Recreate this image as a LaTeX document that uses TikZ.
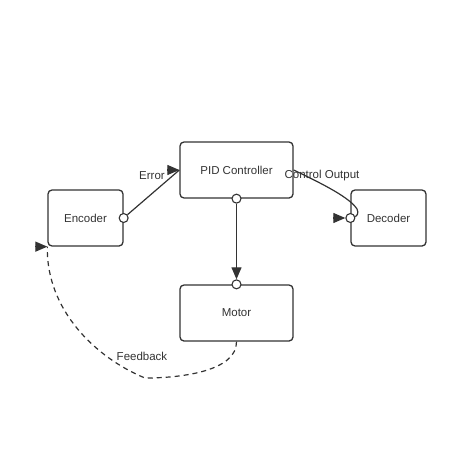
\documentclass[tikz,border=0pt]{standalone}
\usepackage{fontspec}
\setmainfont{Liberation Sans}
\usetikzlibrary{arrows.meta}
\definecolor{edgegray}{HTML}{333333}

\begin{document}
\begin{tikzpicture}[x=1pt,y=-1pt,
    box/.style={draw=edgegray,rounded corners=4pt,line width=1.3pt,text=edgegray,font=\fontsize{11.5}{14}\selectfont,minimum height=56pt},
    port/.style={circle,draw=edgegray,fill=white,line width=1.1pt,inner sep=0pt,minimum size=9pt},
    conn/.style={draw=edgegray,line width=1.2pt},
    tip/.style={-{Triangle[length=12pt,width=10pt]},draw=edgegray,fill=edgegray,line width=1.2pt},
    lbl/.style={text=edgegray,font=\fontsize{11.5}{14}\selectfont,inner sep=1pt}]
    \useasboundingbox (0,0) rectangle (474,474);
    \node[box,minimum width=75pt] (enc) at (85.5,218) {Encoder};
    \node[box,minimum width=113pt] (pid) at (236.5,170) {PID Controller};
    \node[box,minimum width=75pt] (dec) at (388.5,218) {Decoder};
    \node[box,minimum width=113pt] (motor) at (236.5,313) {Motor};
    \node[port] (eport) at (enc.east) {};
    \node[port] (pport) at (pid.south) {};
    \node[port] (mport) at (motor.north) {};
    \node[port] (dport) at (dec.west) {};
    \coordinate (fbk) at (145,378);
    \node[lbl] (errlbl) at (152,176) {Error};
    \node[lbl] (outlbl) at (322,176) {Control Output};
    \node[lbl] (fbklbl) at (142,356) {Feedback};
    \draw[conn] (eport) -- (pid.west);
    \draw[tip] ([xshift=-12pt]pid.west) -- (pid.west);
    \draw[conn] (pid.east) .. controls (325,185) and (350,198) .. (357,209) .. controls (359,213) and (357,216) .. (dport);
    \draw[tip] ([xshift=-12pt]dport.west) -- (dport.west);
    \draw[conn,tip] (pport.south) -- (mport.north);
    \draw[conn,dash pattern=on 5pt off 4pt] (motor.south) .. controls (237,370) and (185,378) .. (fbk) .. controls (96,358) and (46,310) .. (enc.south west);
    \draw[tip] ([xshift=-12pt]enc.south west) -- (enc.south west);
\end{tikzpicture}
\end{document}
